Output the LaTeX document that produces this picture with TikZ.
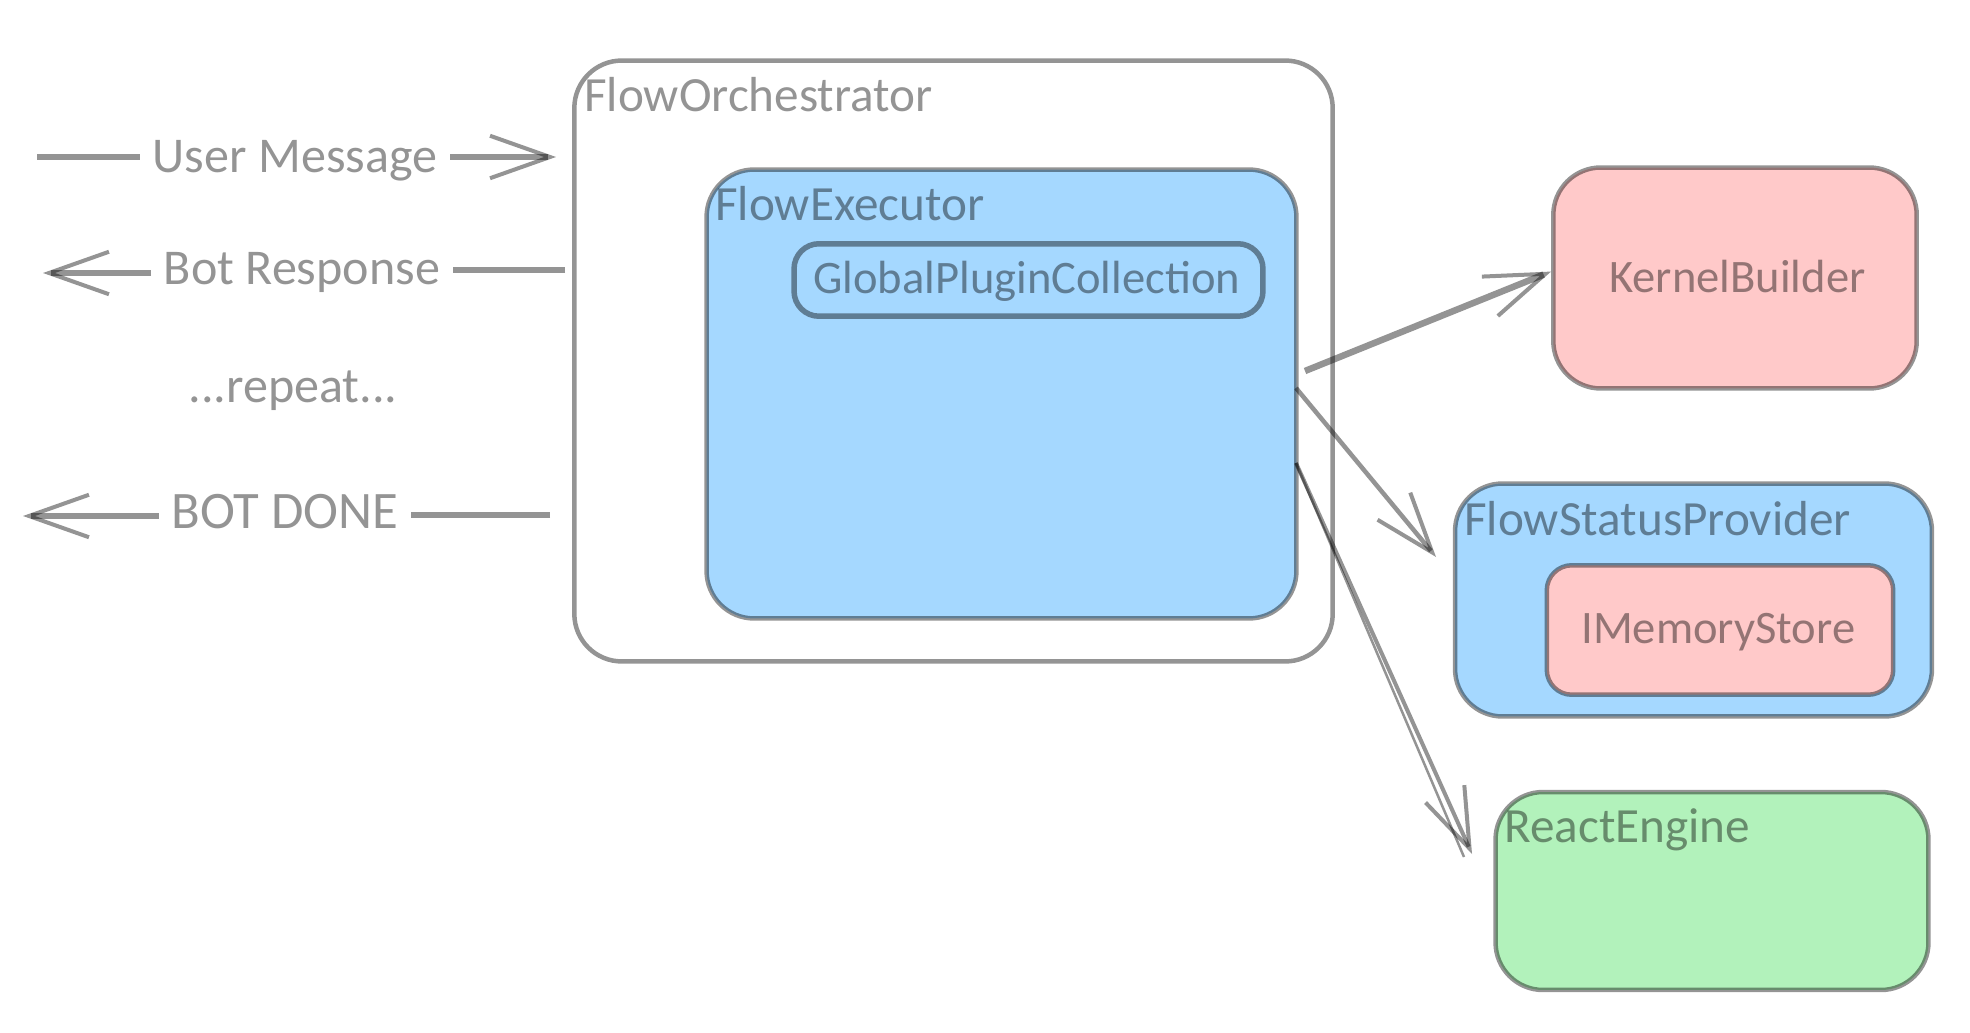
\documentclass[tikz,border=0pt]{standalone}
\usepackage{fontspec}
\setmainfont{Carlito}
\usetikzlibrary{arrows.meta}
\definecolor{skyfill}{HTML}{A5D8FF}
\definecolor{rosefill}{HTML}{FFC9C9}
\definecolor{mintfill}{HTML}{B2F2BB}
\tikzset{
    box/.style={draw=black, draw opacity=.42, line width=.09cm, rounded corners=.95cm, inner sep=0pt},
    smallbox/.style={box, rounded corners=.5cm},
    lbl/.style={text=black, text opacity=.42, font=\fontsize{28}{30}\selectfont, inner sep=0pt, anchor=west},
    innerlbl/.style={lbl, font=\fontsize{26.5}{30}\selectfont},
    msg/.style={text=black, text opacity=.42, font=\fontsize{28.5}{30}\selectfont, inner xsep=.25cm, inner ysep=0pt},
    line/.style={black, draw opacity=.42, line width=.11cm},
    arrow/.style={line, -{Straight Barb[length=1.2cm, width=.85cm, line width=.08cm]}}
}
\begin{document}
\begin{tikzpicture}[x=.02cm, y=-.02cm]
    \useasboundingbox (0,0) rectangle (1970,1033);

    % Kasten
    \node[box, minimum width=15.17cm, minimum height=12.02cm] (orch) at (953.5,361) {};
    \node[box, fill=skyfill, minimum width=11.8cm, minimum height=8.98cm] (exec) at (1001.5,394) {};
    \node[smallbox, minimum width=9.38cm, minimum height=1.45cm, line width=.11cm] (plug) at (1028.5,280) {};
    \node[box, fill=rosefill, minimum width=7.27cm, minimum height=4.42cm] (kern) at (1735,278) {};
    \node[box, fill=skyfill, minimum width=9.54cm, minimum height=4.66cm] (stat) at (1693.5,600) {};
    \node[smallbox, fill=rosefill, minimum width=6.93cm, minimum height=2.59cm] (mem) at (1720,630) {};
    \node[box, fill=mintfill, minimum width=8.66cm, minimum height=3.96cm] (react) at (1712,891) {};

    % Beschriftungen
    \node[lbl] (orchlbl) at (584,95) {FlowOrchestrator};
    \node[lbl] (execlbl) at (715,204) {FlowExecutor};
    \node[innerlbl] (pluglbl) at (813,281) {GlobalPluginCollection};
    \node[innerlbl] (kernlbl) at (1609,277) {KernelBuilder};
    \node[lbl] (statlbl) at (1464,519) {FlowStatusProvider};
    \node[innerlbl] (memlbl) at (1581,632) {IMemoryStore};
    \node[lbl] (reactlbl) at (1504,830) {ReactEngine};

    \node[msg] (usr) at (295,161) {User Message};
    \node[msg] (bot) at (302,272) {Bot Response};
    \node[msg] (rep) at (293,391) {...repeat...};
    \node[msg, font=\fontsize{30}{32}\selectfont] (done) at (285,512) {BOT DONE};

    % Pfeile links
    \coordinate (usrfrom) at (37,157);
    \coordinate (usrto) at (556,157);
    \coordinate (botfrom) at (565,270);
    \coordinate (botto) at (43,273);
    \coordinate (donefrom) at (550,515);
    \coordinate (doneto) at (23,516);
    \draw[line] (usrfrom) -- (usrfrom -| usr.west);
    \draw[arrow] (usrto -| usr.east) -- (usrto);
    \draw[line] (botfrom) -- (botfrom -| bot.east);
    \draw[arrow] (botto -| bot.west) -- (botto);
    \draw[line] (donefrom) -- (donefrom -| done.east);
    \draw[arrow] (doneto -| done.west) -- (doneto);

    % Pfeile rechts
    \coordinate (kernfrom) at (1305,371);
    \coordinate (statfrom) at (1296,388);
    \coordinate (statto) at (1436,557);
    \coordinate (reactfrom) at (1296,463);
    \coordinate (reactto) at (1472,854);
    \coordinate (reactedge) at (1464,857);
    \draw[arrow, line width=.13cm] (kernfrom) -- (kern.178);
    \draw[arrow, line width=.09cm] (statfrom) -- (statto);
    \draw[arrow, line width=.08cm] (reactfrom) -- (reactto);
    \draw[line, line width=.05cm] (reactfrom) -- (reactedge);
\end{tikzpicture}
\end{document}
